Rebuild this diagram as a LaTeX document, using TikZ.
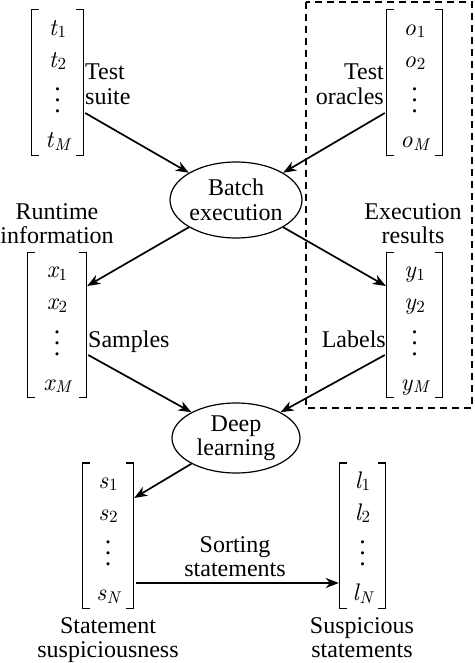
\documentclass[tikz,border=0pt]{standalone}
\usepackage{fontspec}
\setmainfont{Liberation Serif}
\newfontfamily\lmr{lmroman10-regular.otf}[ItalicFont=lmroman10-italic.otf]
\usetikzlibrary{arrows.meta,shapes.geometric}
\newcommand\mdot{\hbox{\fontsize{26}{26}\selectfont .}}
\newcommand\mvdots{\vbox{\baselineskip11pt\lineskiplimit0pt\mdot\mdot\mdot}}
\newcommand\ent[2]{{\fontsize{24}{24.5}\lmr\itshape\selectfont #1}\kern0.8pt\raisebox{-2.5pt}{\fontsize{17}{17}\lmr\selectfont #2}}
\newcommand\mcol[3]{\begin{tabular}{@{}c@{}}\rule{0pt}{25pt}#1\\[7.5pt] #2\\[13.5pt] \mvdots\\[10.5pt] #3\end{tabular}}
\begin{document}
\begin{tikzpicture}[x=1pt,y=-1pt,
  every node/.style={font=\fontsize{24}{24.5}\selectfont, inner sep=0pt},
  mat/.style={inner sep=0pt},
  brk/.style={line width=1.3pt},
  arr/.style={line width=1.7pt, -{Stealth[length=13pt,width=10pt,inset=4pt]}},
  proc/.style={ellipse, draw, line width=1.2pt, align=center, inner sep=0pt},
  dashbox/.style={line width=1.8pt, dash pattern=on 7pt off 5pt}]
\useasboundingbox (0,0) rectangle (474,663);

% matrices
\node[mat, minimum width=51pt, minimum height=145pt] (t) at (57.5,82.5) {\mcol{\ent{t}{1}}{\ent{t}{2}}{\ent{t}{\itshape M}}};
\node[mat, minimum width=55pt, minimum height=145pt] (o) at (414.5,82.5) {\mcol{\ent{o}{1}}{\ent{o}{2}}{\ent{o}{\itshape M}}};
\node[mat, minimum width=58pt, minimum height=144pt] (x) at (57,325) {\mcol{\ent{x}{1}}{\ent{x}{2}}{\ent{x}{\itshape M}}};
\node[mat, minimum width=55pt, minimum height=144pt] (y) at (414.5,325) {\mcol{\ent{y}{1}}{\ent{y}{2}}{\ent{y}{\itshape M}}};
\node[mat, minimum width=50pt, minimum height=143pt] (s) at (108,535.5) {\mcol{\ent{s}{1}}{\ent{s}{2}}{\ent{s}{\itshape N}}};
\node[mat, minimum width=45pt, minimum height=143pt] (l) at (362.5,535.5) {\mcol{\ent{l}{1}}{\ent{l}{2}}{\ent{l}{\itshape N}}};

\foreach \n in {t,o,x,y,s,l}{
  \draw[brk] ([xshift=7pt]\n.north west) -- (\n.north west) -- (\n.south west) -- ([xshift=7pt]\n.south west);
  \draw[brk] ([xshift=-7pt]\n.north east) -- (\n.north east) -- (\n.south east) -- ([xshift=-7pt]\n.south east);
}

% processes
\node[proc, minimum width=126pt, minimum height=76pt] (batch) at (236,200) {Batch\\execution};
\node[proc, minimum width=128pt, minimum height=70pt] (deep) at (236,438) {Deep\\learning};

% labels
\node[anchor=north west, align=left] (ts) at (85,64) {Test\\suite};
\node[anchor=north east, align=right] (to) at (384,64) {Test\\oracles};
\node[anchor=north, align=center] (ri) at (57,203) {Runtime\\information};
\node[anchor=north, align=center] (er) at (413,203) {Execution\\results};
\node[anchor=base west] (sam) at (88,347) {Samples};
\node[anchor=base east] (lab) at (386,347) {Labels};
\node[anchor=north, align=center] (so) at (235,536) {Sorting\\statements};
\node[anchor=north, align=center] (ss) at (108,617) {Statement\\suspiciousness};
\node[anchor=north, align=center] (sst) at (362,617) {Suspicious\\statements};

% connectors
\draw[arr] ([xshift=2pt,yshift=-30.5pt]t.east) -- (batch.150);
\draw[arr] ([xshift=-2pt,yshift=-30.5pt]o.west) -- (batch.30);
\draw[arr] (batch.210) -- ([xshift=1pt,yshift=39pt]x.east);
\draw[arr] (batch.330) -- ([xshift=-1pt,yshift=39pt]y.west);
\draw[arr] ([xshift=2pt,yshift=-30pt]x.east) -- (deep.150);
\draw[arr] ([xshift=-2pt,yshift=-30pt]y.west) -- (deep.30);
\draw[arr] (deep.210) -- ([xshift=1pt,yshift=37.5pt]s.east);
\draw[arr] ([xshift=3pt,yshift=-47.5pt]s.east) -- ([xshift=-1pt,yshift=-47.5pt]l.west);

% dashed frame
\draw[dashbox] (306,2) rectangle (472,408);
\end{tikzpicture}
\end{document}
